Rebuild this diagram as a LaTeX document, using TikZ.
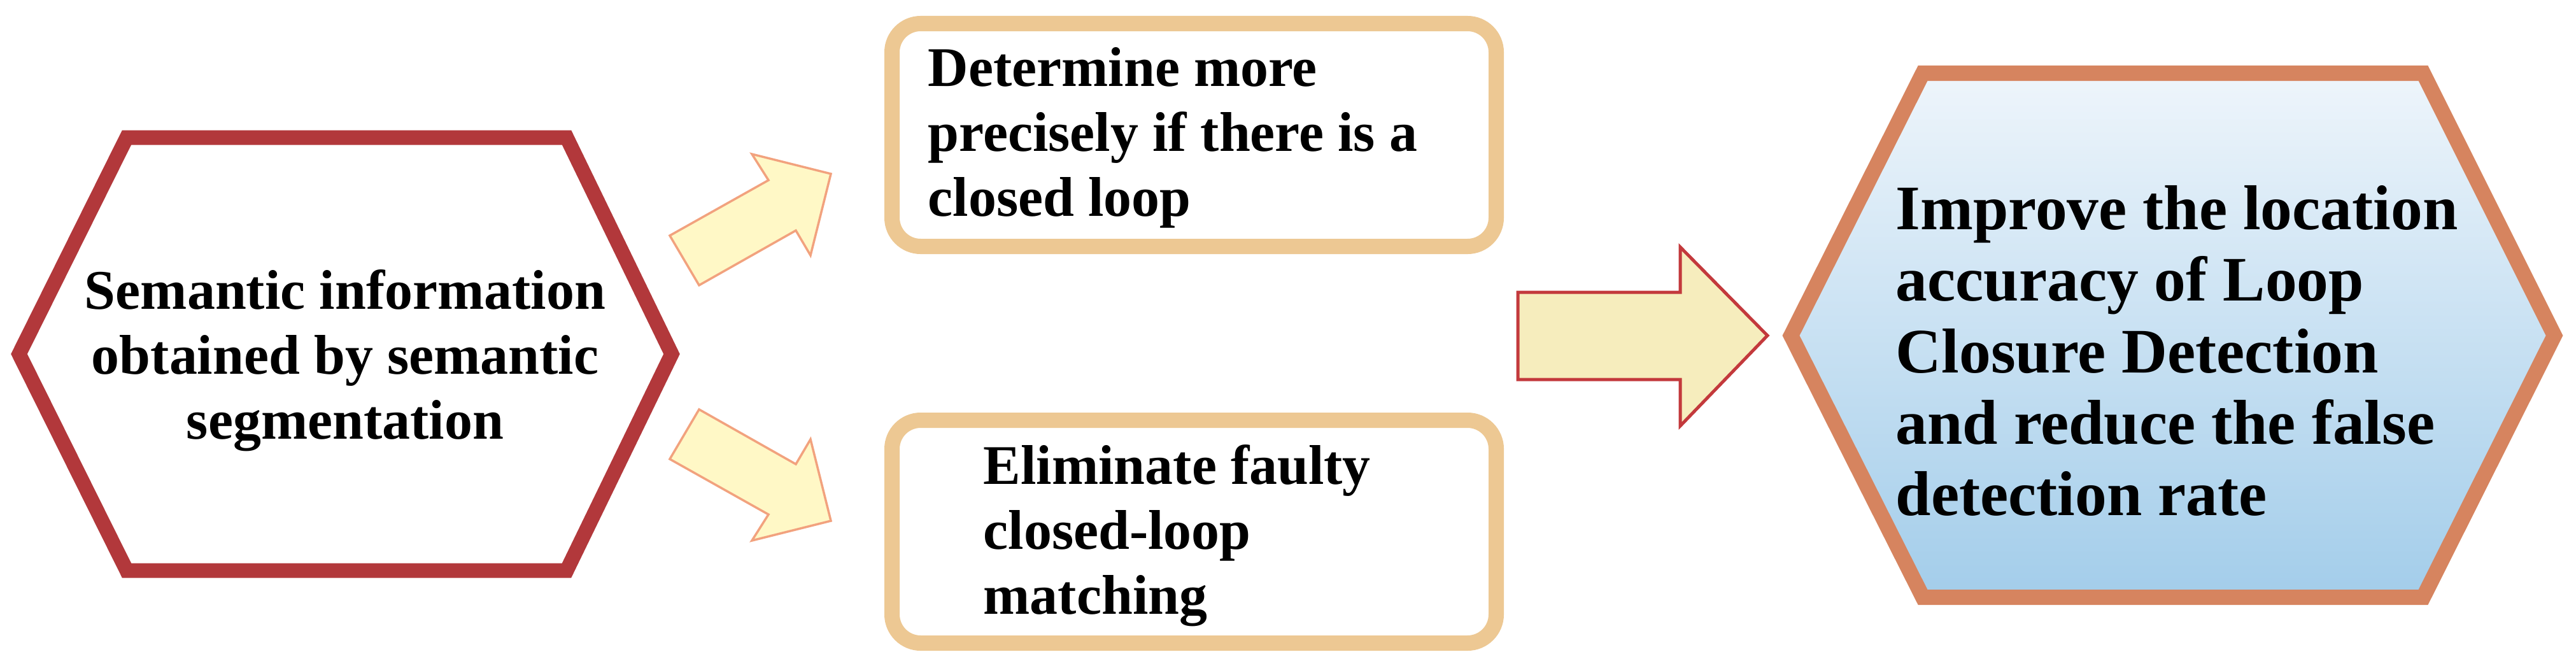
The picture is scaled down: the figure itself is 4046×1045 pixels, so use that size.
\documentclass[tikz,border=0pt]{standalone}
\usepackage{fontspec}
\setmainfont{Liberation Serif}
\definecolor{hexred}{HTML}{B2383B}
\definecolor{hexorange}{HTML}{D6845F}
\definecolor{boxtan}{HTML}{EDC893}
\definecolor{arrfill}{HTML}{FFF8C6}
\definecolor{arrline}{HTML}{F2A27E}
\definecolor{bigfill}{HTML}{F6EDBD}
\definecolor{bigline}{HTML}{C3393C}
\definecolor{bluetop}{HTML}{EEF5FB}
\definecolor{bluebot}{HTML}{A3CDEA}
\tikzset{
  hexleft/.style={draw=hexred, line width=0.23cm, line join=miter, fill=white},
  hexright/.style={draw=hexorange, line width=0.24cm, line join=miter, top color=bluetop, bottom color=bluebot},
  roundbox/.style={draw=boxtan, line width=0.24cm, rounded corners=0.45cm, fill=white},
  smallarrow/.style={draw=arrline, fill=arrfill, line width=0.035cm, line join=miter},
  bigarrow/.style={draw=bigline, fill=bigfill, line width=0.05cm, line join=miter},
  lbl/.style={inner sep=0pt, font=\bfseries\fontsize{25pt}{29pt}\selectfont},
  lblbig/.style={inner sep=0pt, font=\bfseries\fontsize{28.3pt}{31.9pt}\selectfont},
}
\begin{document}
\begin{tikzpicture}[x=0.01cm, y=-0.01cm]
  \useasboundingbox (0,0) rectangle (4046,1045);
  \fill[white] (0,0) rectangle (4046,1045);

  % left hexagon
  \draw[hexleft] (30,556) -- (199,216) -- (890,216) -- (1055,556) -- (890,896) -- (199,896) -- cycle;

  % middle rounded boxes
  \draw[roundbox] (1401,37) rectangle (2350,387);
  \draw[roundbox] (1401,660) rectangle (2350,1010);

  % right hexagon
  \draw[hexright] (2813,527) -- (3020,115) -- (3806,115) -- (4012,527) -- (3806,938) -- (3020,938) -- cycle;

  % small arrows
  \draw[smallarrow] (1052,370) -- (1207,283) -- (1181,242) -- (1305,273) -- (1273,401) -- (1250,362) -- (1098,448) -- cycle;
  \draw[smallarrow] (1052,721) -- (1207,808) -- (1181,849) -- (1305,818) -- (1273,690) -- (1250,729) -- (1098,643) -- cycle;

  % big arrow
  \draw[bigarrow] (2384,459) -- (2639,459) -- (2639,388) -- (2776,527) -- (2639,669) -- (2639,596) -- (2384,596) -- cycle;

  % texts
  \node[lbl, align=center, anchor=north] (sem) at (542,413.6)
    {\strut Semantic information\\obtained by semantic\\segmentation};
  \node[lbl, align=left, anchor=north west] (det) at (1457,63.6)
    {\strut Determine more\\precisely if there is a\\closed loop};
  \node[lbl, align=left, anchor=north west] (eli) at (1544,688.6)
    {\strut Eliminate faulty\\closed-loop\\matching};
  \node[lblbig, align=left, anchor=north west] (imp) at (2977,281.5)
    {\strut Improve the location\\accuracy of Loop\\Closure Detection\\and reduce the false\\detection rate};
\end{tikzpicture}
\end{document}
